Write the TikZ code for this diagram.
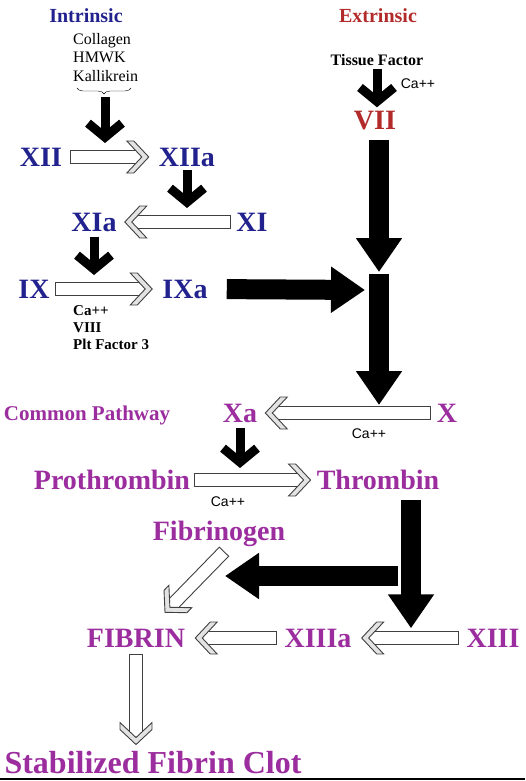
\documentclass[tikz,border=0pt]{standalone}
\usepackage{fontspec}
\setmainfont{Liberation Serif}
\newfontfamily\casans{Liberation Sans}
\usetikzlibrary{arrows.meta,calc,decorations.pathreplacing}
\definecolor{intblue}{HTML}{22228F}
\definecolor{extred}{HTML}{B22A2A}
\definecolor{compurple}{HTML}{9B2D9E}
\tikzstyle{factor}=[inner sep=0pt, text height=19pt, text depth=0pt
,font=\fontsize{28}{30}\selectfont\bfseries
]
\tikzstyle{heading}=[inner sep=0pt, font=\fontsize{20}{22}\selectfont\bfseries]
\tikzstyle{cofactor}=[inner sep=0pt, align=left, font=\fontsize{15}{17}\selectfont\bfseries]
\tikzstyle{ion}=[inner sep=0pt, font=\casans\fontsize{14}{16}\selectfont]
\tikzstyle{hollow} = [draw=black!75, fill=white, line width=0.9pt]
\tikzstyle{hollowhead} = [draw=black!75, fill=gray!22, line width=0.9pt, line join=miter]
\tikzstyle{push} = [draw, line width=9pt, -{Straight Barb[length=14pt, width=34pt]}]
\tikzstyle{bigpush} = [draw, line width=20pt, -{Triangle[length=34pt, width=44pt]}]
% hollow conversion arrow: from #1 to #2, cut back by #3 and #4
\newcommand{\hollowarrow}[4]{%
    \coordinate (ha) at ($(#1)!#3!(#2)$);
    \coordinate (hz) at ($(#2)!#4!(#1)$);
    \coordinate (hn) at ($(hz)!7pt!(ha)$);
    \coordinate (hb) at ($(hz)!15pt!(ha)$);
    \coordinate (hc) at ($(hz)!22pt!(ha)$);
    \filldraw[hollow] ($(ha)!6.5pt!90:(hz)$) -- ($(hn)!6.5pt!90:(hz)$)
        -- ($(hn)!6.5pt!-90:(hz)$) -- ($(ha)!6.5pt!-90:(hz)$) -- cycle;
    \filldraw[hollowhead] (hz) -- ($(hb)!16pt!90:(hz)$) -- ($(hc)!16pt!90:(hz)$)
        -- (hn) -- ($(hc)!16pt!-90:(hz)$) -- ($(hb)!16pt!-90:(hz)$) -- cycle;
}

\begin{document}
\begin{tikzpicture}[x=1pt, y=-1pt]
    \useasboundingbox (0,0) rectangle (525,781);
    % Headings of the two pathways
    \node[heading, text=intblue] (intr) at (86,16) {Intrinsic};
    \node[heading, text=extred] (extr) at (378,16) {Extrinsic};
    % Contact activators and the brace under them
    \node[inner sep=0pt, anchor=north west, align=left
        ,font=\fontsize{16}{18.5}\selectfont] (contact) at (73,33) {Collagen\\HMWK\\Kallikrein};
    \coordinate (bl) at (77,88);
    \coordinate (br) at (131,88);
    \coordinate (kk) at (105,97);
    \draw[decorate, decoration={brace, mirror, amplitude=6pt}] (bl) -- (br);
    % Intrinsic factors
    \node[factor, text=intblue] (XII) at (41,157) {XII};
    \node[factor, text=intblue] (XIIa) at (187,157) {XIIa};
    \node[factor, text=intblue] (XIa) at (94,222) {XIa};
    \node[factor, text=intblue] (XI) at (252,222) {XI};
    \node[factor, text=intblue] (IX) at (34,289) {IX};
    \node[factor, text=intblue] (IXa) at (185,289) {IXa};
    \node[cofactor, anchor=north west] (tenase) at (73,305) {Ca++\\VIII\\Plt Factor 3};
    % Extrinsic side
    \node[cofactor, font=\fontsize{16}{18}\selectfont\bfseries] (tissue) at (377,60) {Tissue Factor};
    \node[ion] (ca1) at (418,84) {Ca++};
    \node[factor, text=extred] (VII) at (375,120) {VII};
    \coordinate (j1) at (379,272);
    \coordinate (j2) at (365,290);
    % Common pathway
    \node[heading, text=compurple, font=\fontsize{21}{23}\selectfont\bfseries] (common) at (87,415) {Common Pathway};
    \node[factor, text=compurple] (Xa) at (240,413) {Xa};
    \node[factor, text=compurple] (X) at (447,413) {X};
    \node[ion] (ca2) at (369,434) {Ca++};
    \node[factor, text=compurple] (prothr) at (112,480) {Prothrombin};
    \node[factor, text=compurple] (thr) at (378,480) {Thrombin};
    \node[ion] (ca3) at (228,502) {Ca++};
    \node[factor, text=compurple] (fgen) at (219,531) {Fibrinogen};
    \node[factor, text=compurple] (fibrin) at (136,638) {FIBRIN};
    \node[factor, text=compurple] (XIIIa) at (318,638) {XIIIa};
    \node[factor, text=compurple] (XIII) at (493,638) {XIII};
    \node[inner sep=0pt, text=compurple, font=\fontsize{32}{34}\selectfont\bfseries] (clot) at (153,763) {Stabilized Fibrin Clot};
    \coordinate (tb) at (398,576);
    \coordinate (fa) at (225,576);

    % Conversions (hollow arrows)
    \hollowarrow{XII.east}{XIIa.west}{8pt}{10pt}
    \hollowarrow{XI.west}{XIa.east}{6pt}{8pt}
    \hollowarrow{IX.east}{IXa.west}{6pt}{10pt}
    \hollowarrow{X.west}{Xa.east}{6pt}{8pt}
    \hollowarrow{prothr.east}{thr.west}{4pt}{6pt}
    \hollowarrow{[xshift=5pt,yshift=-11pt]fgen.south}{[xshift=29pt,yshift=16pt]fibrin.north}{0pt}{0pt}
    \hollowarrow{XIIIa.west}{fibrin.east}{8pt}{10pt}
    \hollowarrow{XIII.west}{XIIIa.east}{8pt}{10pt}
    \hollowarrow{fibrin.south}{fibrin.south |- clot.north}{7pt}{7pt}

    % Activations (black arrows)
    \path[push, shorten >=14pt] (kk) -- (kk |- XII);
    \path[push, shorten <=3pt, shorten >=14pt] (XIIa.south) -- (XIIa |- XI);
    \path[push, shorten <=5pt, shorten >=14pt] (XIa.south) -- (XIa |- IX);
    \path[push, shorten <=3pt, shorten >=3pt] (tissue.south) -- (tissue.south |- VII.north);
    \path[push, shorten <=5pt, shorten >=12pt] (Xa.south) -- (Xa |- prothr);
    \path[bigpush, shorten <=10pt] (VII.south -| j1) -- (j1);
    \path[bigpush, shorten <=19pt] (IXa.east) -- (j2);
    \path[bigpush, shorten <=2pt, shorten >=8pt] (j1) -- (j1 |- X);
    \path[bigpush, shorten <=10pt] ([xshift=33pt]thr.south) -- ([xshift=33pt]thr.south |- XIII.north);
    \path[bigpush] (tb) -- (fa);

    % Bottom rule
    \draw[line width=2pt] (0,779) -- (525,779);
\end{tikzpicture}
\end{document}
